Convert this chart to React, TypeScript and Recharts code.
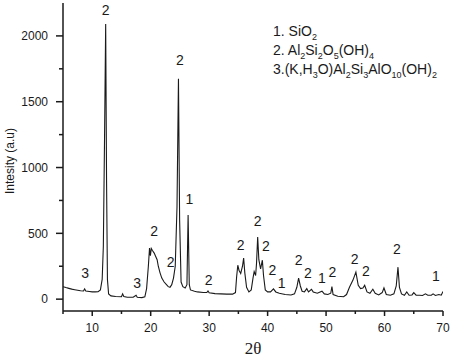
import { ComposedChart, Line, Scatter, XAxis, YAxis } from 'recharts'

// 2θ positions and intensities
const twoTheta = [
  5.0, 5.5, 6.0, 6.5, 7.0, 7.5, 8.0, 8.5, 8.7, 8.9, 9.5, 10.0, 10.5, 11.0, 11.4, 11.7, 11.9, 12.1, 12.3, 12.45,
  12.6, 12.8, 13.2, 14.0, 15.0, 15.2, 15.4, 16.0, 17.0, 17.5, 17.7, 18.5, 19.0, 19.3, 19.6, 19.8, 19.95, 20.1,
  20.3, 20.6, 20.8, 21.1, 21.3, 21.6, 21.9, 22.3, 22.7, 23.0, 23.3, 23.6, 23.9, 24.2, 24.5, 24.75, 24.95, 25.2,
  25.5, 25.9, 26.2, 26.4, 26.6, 26.8, 27.5, 28.0, 29.0, 29.6, 29.8, 30.0, 31.0, 32.0, 33.0, 34.0, 34.5, 34.7,
  34.9, 35.1, 35.4, 35.7, 35.9, 36.1, 36.4, 36.8, 37.2, 37.5, 37.7, 37.95, 38.1, 38.3, 38.5, 38.8, 39.1, 39.3,
  39.6, 40.0, 40.5, 41.0, 41.4, 42.0, 43.0, 44.0, 44.6, 45.0, 45.3, 45.6, 45.9, 46.3, 46.7, 47.0, 47.5, 47.8,
  48.5, 49.3, 49.7, 50.3, 50.8, 51.0, 51.2, 52.0, 53.0, 53.5, 54.0, 54.6, 55.1, 55.5, 55.9, 56.3, 56.6, 57.0,
  57.5, 58.0, 58.4, 59.0, 59.6, 59.9, 60.3, 61.0, 61.6, 62.0, 62.3, 62.55, 62.9, 63.4, 63.8, 64.2, 64.7, 65.0,
  65.4, 66.0, 66.5, 67.0, 67.4, 68.0, 68.3, 68.7, 69.3, 69.7, 70.0,
]
const intensity = [
  95, 88, 82, 76, 72, 68, 64, 62, 78, 62, 58, 55, 55, 56, 70, 150, 400, 1200, 2090, 900,
  150, 40, 25, 20, 18, 40, 20, 15, 15, 30, 15, 12, 18, 80, 250, 388, 330, 385,
  370, 350, 330, 300, 250, 200, 160, 130, 110, 95, 90, 110, 160, 250, 700, 1675, 600, 130,
  95, 85, 110, 640, 110, 70, 60, 55, 50, 50, 62, 48, 42, 40, 38, 38, 50, 170,
  258, 220, 195, 250, 312, 200, 90, 55, 70, 160, 210, 180, 270, 472, 300, 230, 296, 180,
  70, 55, 55, 78, 55, 45, 35, 32, 40, 90, 160, 100, 60, 55, 80, 55, 75, 55,
  45, 60, 40, 35, 45, 95, 35, 22, 18, 35, 90, 145, 205, 105, 80, 85, 105, 55,
  45, 75, 45, 32, 50, 85, 35, 30, 40, 100, 243, 90, 40, 30, 55, 30, 32, 50,
  30, 30, 28, 40, 30, 30, 40, 28, 35, 30, 58,
]

// phase labels above the peaks
const peakX = [8.8, 12.3, 17.7, 20.6, 23.4, 25.0, 26.6, 29.9, 35.4, 38.3, 39.7, 40.8, 42.4, 45.3, 46.9, 49.3, 51.1, 54.9, 56.8, 62.1, 68.8]
const peakY = [198, 2198, 122, 517, 281, 1817, 760, 144, 411, 590, 403, 220, 122, 297, 198, 160, 205, 304, 213, 380, 175]
const peakPhase = ['3', '2', '3', '2', '2', '2', '1', '2', '2', '2', '2', '2', '1', '2', '2', '1', '2', '2', '2', '2', '1']

const xTicks = [5, 10, 15, 20, 25, 30, 35, 40, 45, 50, 55, 60, 65, 70]
const yTicks = [0, 250, 500, 750, 1000, 1250, 1500, 1750, 2000]

const pattern = twoTheta.map((x, i) => ({ x, y: intensity[i] }))
const peaks = peakX.map((x, i) => ({ x, y: peakY[i], t: peakPhase[i] }))

const font = '"Liberation Sans", Arial, sans-serif'
const ink = '#1a1a1a'

function XTick({ x, y, payload }: any) {
  const major = payload.value % 10 === 0
  return (
    <g>
      <line x1={x} x2={x} y1={y} y2={y + (major ? 5 : 3)} stroke={ink} strokeWidth={1.5} />
      {major && (
        <text x={x} y={y + 21} textAnchor="middle" fontSize={12} fontFamily={font} fill={ink}>
          {payload.value}
        </text>
      )}
    </g>
  )
}

function YTick({ x, y, payload }: any) {
  const major = payload.value % 500 === 0
  return (
    <g>
      <line x1={x} x2={x - (major ? 7 : 4)} y1={y} y2={y} stroke={ink} strokeWidth={1.5} />
      {major && (
        <text x={x - 15} y={y} dy="0.35em" textAnchor="end" fontSize={12} fontFamily={font} fill={ink}>
          {payload.value}
        </text>
      )}
    </g>
  )
}

function PeakLabel({ cx, cy, payload }: any) {
  return (
    <text x={cx} y={cy} dy="0.35em" textAnchor="middle" fontSize={14} fontFamily={font} fill={ink}>
      {payload.t}
    </text>
  )
}

const sub = { fontSize: 9, verticalAlign: -4, lineHeight: 0 } as const

export default function App() {
  return (
    <div style={{ position: 'absolute', left: 0, top: 0, width: 474, height: 359, background: '#fff' }}>
      <ComposedChart width={474} height={359} margin={{ top: 3, right: 31, left: 0, bottom: 0 }}>
        <XAxis
          dataKey="x"
          type="number"
          domain={[5, 70]}
          ticks={xTicks}
          interval={0}
          height={48}
          tickSize={0}
          tickMargin={0}
          tick={<XTick />}
          stroke={ink}
          strokeWidth={1.5}
          allowDataOverflow
          label={{ value: '2θ', position: 'insideBottom', offset: 0, dy: -5, fontSize: 17, fontFamily: '"Liberation Serif", serif', fill: ink }}
        />
        <YAxis
          dataKey="y"
          type="number"
          domain={[-90, 2250]}
          ticks={yTicks}
          interval={0}
          width={63}
          tickSize={0}
          tickMargin={0}
          tick={<YTick />}
          stroke={ink}
          strokeWidth={1.5}
          allowDataOverflow
          label={{ value: 'Intesity (a.u)', angle: -90, position: 'insideLeft', offset: 10, dy: 37, fontSize: 12, fontFamily: font, fill: ink }}
        />
        <Line data={pattern} dataKey="y" type="linear" stroke={ink} strokeWidth={1.1} dot={false} isAnimationActive={false} />
        <Scatter data={peaks} dataKey="y" shape={<PeakLabel />} isAnimationActive={false} />
      </ComposedChart>
      <div style={{ position: 'absolute', left: 273, top: 23, fontFamily: font, fontSize: 14, color: ink }}>
        <div style={{ height: 19 }}>1. SiO<sub style={sub}>2</sub></div>
        <div style={{ height: 19 }}>
          2. Al<sub style={sub}>2</sub>Si<sub style={sub}>2</sub>O<sub style={sub}>5</sub>(OH)<sub style={sub}>4</sub>
        </div>
        <div style={{ height: 19 }}>
          3.(K,H<sub style={sub}>3</sub>O)Al<sub style={sub}>2</sub>Si<sub style={sub}>3</sub>AlO<sub style={sub}>10</sub>(OH)<sub style={sub}>2</sub>
        </div>
      </div>
    </div>
  )
}
